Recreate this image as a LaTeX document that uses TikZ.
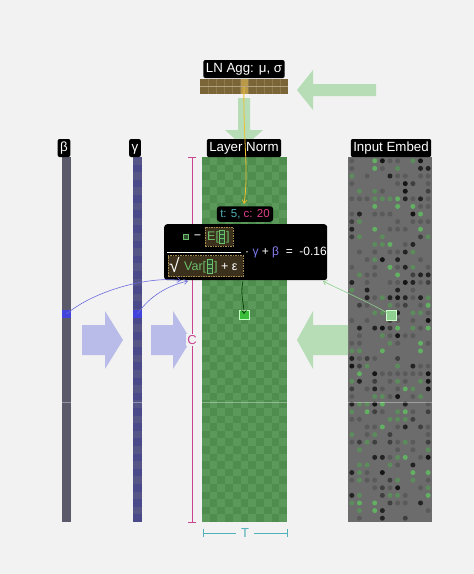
\documentclass[tikz,border=0pt]{standalone}
\usepackage{fontspec}
\setmainfont{Liberation Sans}
\usetikzlibrary{arrows.meta}
\definecolor{bg}{HTML}{F2F2F2}
\definecolor{betaC}{HTML}{5A5A6A}
\definecolor{gamA}{HTML}{4A4A8A}
\definecolor{gamB}{HTML}{555588}
\definecolor{lnA}{HTML}{4E8D4E}
\definecolor{lnB}{HTML}{5A995A}
\definecolor{ieBg}{HTML}{6C6C6C}
\definecolor{dotD}{HTML}{5A5A5A}
\definecolor{dotK}{HTML}{151515}
\definecolor{dotG}{HTML}{5C8C5C}
\definecolor{dotL}{HTML}{62B062}
\definecolor{lav}{HTML}{B9BBE8}
\definecolor{pgreen}{HTML}{B6DDB6}
\definecolor{barC}{HTML}{7A6536}
\definecolor{barL}{HTML}{8E7A4C}
\definecolor{barH}{HTML}{BA9A48}
\definecolor{fgreen}{HTML}{6CC06C}
\definecolor{dkgreen}{HTML}{2E4A2E}
\definecolor{dbFill}{HTML}{3A301C}
\definecolor{dbDraw}{HTML}{A88C50}
\definecolor{tealC}{HTML}{52B0BA}
\definecolor{pinkC}{HTML}{E0408A}
\definecolor{magC}{HTML}{C8448F}
\definecolor{gamT}{HTML}{7E7EF0}
\definecolor{betT}{HTML}{8C80F5}
\definecolor{blueL}{HTML}{6A6ADF}
\definecolor{hiBlue}{HTML}{4242DC}
\definecolor{yelC}{HTML}{F0C030}
\definecolor{grnL}{HTML}{8FCF8F}
\begin{document}
\begin{tikzpicture}[x=1pt,y=-1pt,
  lbl/.style={fill=black, text=white, rounded corners=2pt, inner xsep=2.5pt, inner ysep=2.5pt,
    text height=10pt, text depth=3pt, font=\fontsize{13.3}{14}\selectfont},
  ftxt/.style={inner sep=0pt, font=\fontsize{12.5}{13}\selectfont},
  gtxt/.style={ftxt, text=fgreen},
  wtxt/.style={ftxt, text=white},
  dbox/.style={draw=dbDraw, fill=dbFill, dash pattern=on 1.5pt off 1pt, line width=0.6pt, inner sep=0pt},
  conn/.style={line width=0.6pt, -{Straight Barb[length=3.5pt,width=5pt]}},
  dimline/.style={line width=0.6pt}]
\useasboundingbox (0,0) rectangle (474,574);
\fill[bg] (0,0) rectangle (474,574);

% ---------- beta column ----------
\fill[betaC] (62,157) rectangle (71,522);
% ---------- gamma column ----------
\fill[gamA] (133,157) rectangle (142,522);
\foreach \j in {0,2,...,46}{
  \fill[gamB] (133,{157+7.604*\j}) rectangle (142,{157+7.604*(\j+1)});
}
% ---------- layer norm column ----------
\fill[lnA] (202,157) rectangle (287,522);
\foreach \i in {0,...,10}{\foreach \j in {0,...,47}{
  \pgfmathtruncatemacro\p{mod(\i+\j,2)}
  \ifnum\p=1
    \fill[lnB] ({202+7.727*\i},{157+7.604*\j}) rectangle ({202+7.727*(\i+1)},{157+7.604*(\j+1)});
  \fi
}}
% ---------- input embed ----------
\fill[ieBg] (348,157) rectangle (432,522);
\pgfmathsetseed{4242}
\foreach \i in {0,...,10}{\foreach \j in {0,...,47}{
  \pgfmathrandominteger{\r}{0}{15}
  \def\cx{348+7.636*(\i+0.5)}\def\cy{157+7.604*(\j+0.5)}
  \ifcase\r
  \or
  \or
  \or
  \or
  \or
  \or \fill[dotD] ({\cx},{\cy}) circle (2.5);
  \or \fill[dotD] ({\cx},{\cy}) circle (2.5);
  \or \fill[dotD] ({\cx},{\cy}) circle (2.5);
  \or \fill[dotD!70!black] ({\cx},{\cy}) circle (2.5);
  \or \fill[dotD] ({\cx},{\cy}) circle (2.5);
  \or \fill[dotK] ({\cx},{\cy}) circle (2.5);
  \or \fill[dotK!80!dotD] ({\cx},{\cy}) circle (2.5);
  \or \fill[dotG] ({\cx},{\cy}) circle (2.5);
  \or \fill[dotG] ({\cx},{\cy}) circle (2.5);
  \or \fill[dotL] ({\cx},{\cy}) circle (2.5);
  \fi
}}
% faint seam line
\foreach \a/\b in {62/71,133/142,202/287,348/432}{
  \draw[white, opacity=0.35, line width=0.5pt] (\a,402) -- (\b,402);
}
% ---------- highlighted cells ----------
\fill[hiBlue] (62,310) rectangle (71,318);
\fill[hiBlue] (133,310) rectangle (142,318);
\fill[green!35!lnB, draw=green!25!white, line width=0.4pt] (239,310) rectangle (249,319);
\fill[grnL, draw=green!20!white, line width=0.4pt] (386,310) rectangle (396,320);
\coordinate (bcell) at (66.5,314);
\coordinate (gcell) at (137.5,314);
\coordinate (lcell) at (244,314);
\coordinate (icell) at (391,315);

% ---------- big arrows ----------
\fill[lav] (82,325) -- (105,325) -- (105,311) -- (123,340) -- (105,369) -- (105,355) -- (82,355) -- cycle;
\fill[lav] (151,325) -- (173,325) -- (173,311) -- (191,340) -- (173,369) -- (173,355) -- (151,355) -- cycle;
\fill[pgreen] (348,325) -- (313,325) -- (313,311) -- (297,340) -- (313,369) -- (313,355) -- (348,355) -- cycle;
\fill[pgreen] (376,84) -- (313,84) -- (313,70) -- (297,90) -- (313,110) -- (313,96) -- (376,96) -- cycle;
\fill[pgreen] (238,98) -- (250,98) -- (250,130) -- (263,130) -- (244,147) -- (225,130) -- (238,130) -- cycle;

% ---------- LN Agg bar ----------
\fill[barC] (200,79) rectangle (288,94);
\fill[barH] (240,79) rectangle (248,94);
\foreach \i in {1,...,10}{ \draw[barL, line width=0.4pt] ({200+8*\i},79) -- ({200+8*\i},94); }
\draw[barL!70!white, line width=0.5pt] (200,86.5) -- (288,86.5);
\coordinate (aggcell) at (244,86);

% ---------- labels ----------
\node[lbl] (betaL) at (64,148) {β};
\node[lbl] (gammaL) at (135,148) {γ};
\node[lbl] (lnL) at (244,148) {Layer Norm};
\node[lbl] (ieL) at (391,148) {Input Embed};
\node[lbl] (aggL) at (244,69) {LN Agg: μ, σ};

% ---------- dimension lines ----------
\draw[magC, dimline] (188,157) -- (196,157);
\draw[magC, dimline] (188,522) -- (196,522);
\draw[magC, dimline] (192,157) -- (192,522);
\node[fill=bg, text=magC, inner sep=1.5pt, font=\fontsize{13}{13}\selectfont] (cdim) at (192,340) {C};
\draw[tealC, dimline] (203,529) -- (203,537);
\draw[tealC, dimline] (287,529) -- (287,537);
\draw[tealC, dimline] (203,533) -- (287,533);
\node[fill=bg, text=tealC, inner xsep=5pt, inner ysep=1pt, font=\fontsize{13}{13}\selectfont] (tdim) at (245,533) {T};

% ---------- tooltip + formula ----------
\node[fill=black, rounded corners=3pt, inner xsep=3.5pt, inner ysep=3pt, font=\fontsize{11.5}{12}\selectfont] (tip) at (245,214)
  {\textcolor{tealC}{t: 5,} \textcolor{pinkC}{c: 20}};
\node[fill=black, rounded corners=3pt, minimum width=163pt, minimum height=56pt, inner sep=0pt, anchor=north west] (formula) at (164,224) {};
% numerator
\node[draw=fgreen, fill=dkgreen, minimum size=5.5pt, inner sep=0pt, line width=0.6pt] (nsq) at (186,237) {};
\node[wtxt] (nminus) at (197.5,237) {−};
\node[dbox, minimum width=28pt, minimum height=19pt] (ebox) at (219,236.5) {};
\node[gtxt, anchor=west] (etext) at (207,237) {E[};
\fill[dkgreen] (219.5,230) rectangle (224.5,243);
\draw[fgreen, line width=0.5pt] (219.5,230) rectangle (224.5,243) (219.5,234.3) -- (224.5,234.3) (219.5,238.6) -- (224.5,238.6);
\node[gtxt, anchor=west] (eclose) at (226,237) {]};
% fraction bar
\draw[white, line width=0.8pt] (167,252) -- (241,252);
% denominator
\node[dbox, minimum width=75pt, minimum height=21pt] (vbox) at (205.5,266) {};
\node[wtxt, anchor=west, font=\fontsize{19}{19}\selectfont] (sqrt) at (169,265.5) {√};
\node[gtxt, anchor=west] (var) at (184,267) {Var[};
\fill[dkgreen] (207.5,259.5) rectangle (212.5,273);
\draw[fgreen, line width=0.5pt] (207.5,259.5) rectangle (212.5,273) (207.5,264) -- (212.5,264) (207.5,268.5) -- (212.5,268.5);
\node[gtxt, anchor=west] (vclose) at (214,267) {]};
\node[wtxt, anchor=west] (peps) at (221,267) {+ ε};
% rest
\node[ftxt, anchor=west, font=\fontsize{12}{12}\selectfont] (rest) at (245,252)
  {\textcolor{white}{·} \textcolor{gamT}{γ} \textcolor{white}{+} \textcolor{betT}{β} \textcolor{white}{\ = \ -0.16}};
\coordinate (fbl) at (181,280.5);
\coordinate (fbl2) at (188,281);
\coordinate (fbc) at (243,281);
\coordinate (fbr) at (323,281);
\coordinate (tiptop) at (244,204);

% ---------- connectors ----------
\draw[conn, blueL] (bcell) .. controls (95,290) and (150,276) .. (fbl);
\draw[conn, blueL] (gcell) .. controls (150,295) and (170,285) .. (fbl2);
\draw[conn, grnL] (icell) .. controls (365,300) and (340,290) .. (fbr);
\draw[conn, black!80!green] (fbc) .. controls (240,295) and (244,303) .. (lcell);
\draw[conn, yelC, line width=0.8pt] (aggcell) .. controls (243,140) and (249,170) .. (tiptop);
\end{tikzpicture}
\end{document}
